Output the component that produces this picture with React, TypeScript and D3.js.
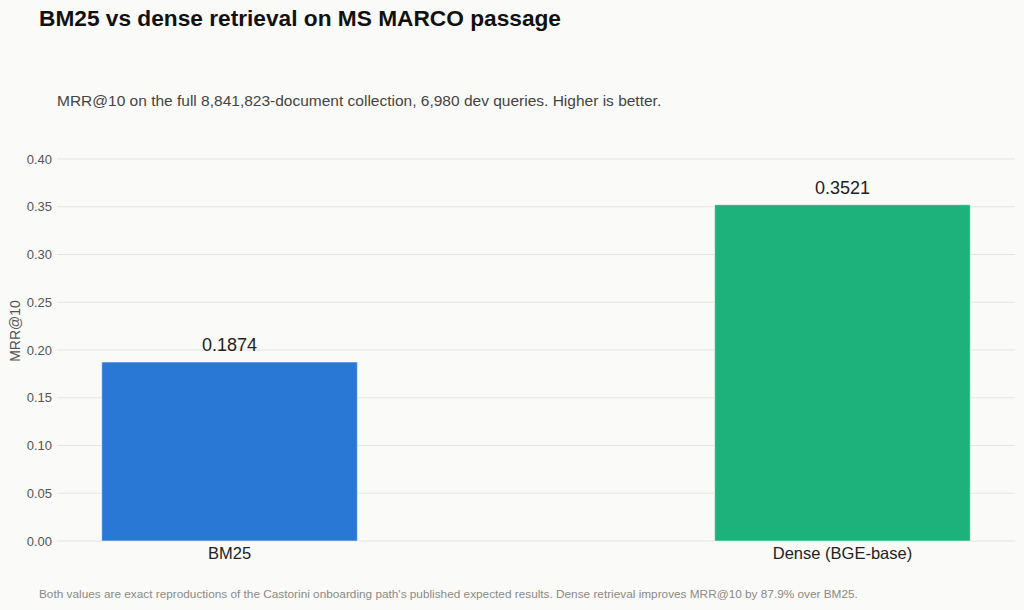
import React from "react";
import * as d3 from "d3";

const categories = ["BM25", "Dense (BGE-base)"];
const mrrValues = [0.1874, 0.3521];
const barColors = ["#2a78d6", "#1db27b"];
const yTicks = [0, 0.05, 0.1, 0.15, 0.2, 0.25, 0.3, 0.35, 0.4];

const title = "BM25 vs dense retrieval on MS MARCO passage";
const subtitle = "MRR@10 on the full 8,841,823-document collection, 6,980 dev queries. Higher is better.";
const footnote =
  "Both values are exact reproductions of the Castorini onboarding path's published expected results. Dense retrieval improves MRR@10 by 87.9% over BM25.";

const W = 1024;
const H = 610;
const margin = { top: 159, right: 9, bottom: 69, left: 57 };
const font = "'Liberation Sans', Arial, Helvetica, sans-serif";

export default function App() {
  const x = d3
    .scaleBand<string>()
    .domain(categories)
    .range([margin.left, W - margin.right])
    .paddingInner(0.583)
    .paddingOuter(0.073);
  const y = d3
    .scaleLinear()
    .domain([0, 0.4])
    .range([H - margin.bottom, margin.top]);

  return (
    <div style={{ position: "fixed", left: 0, top: 0, width: W, height: H, background: "#fafaf8" }}>
      <svg width={W} height={H} style={{ display: "block", fontFamily: font }}>
        <rect width={W} height={H} fill="#fafaf8" />
        <text x={39} y={26} fontSize={22.7} fontWeight="bold" fill="#111">
          {title}
        </text>
        <text x={57} y={106} fontSize={15.5} fill="#444">
          {subtitle}
        </text>

        {yTicks.map((t) => (
          <g key={t}>
            <line
              x1={margin.left}
              x2={W - margin.right}
              y1={y(t)}
              y2={y(t)}
              stroke="#e4e4e2"
              strokeWidth={1.2}
            />
            <text x={52} y={y(t)} dy="0.35em" textAnchor="end" fontSize={13} fill="#555">
              {t.toFixed(2)}
            </text>
          </g>
        ))}

        <text
          transform="translate(20,331) rotate(-90)"
          textAnchor="middle"
          fontSize={14}
          fill="#555"
        >
          MRR@10
        </text>

        {categories.map((c, i) => (
          <g key={c}>
            <rect
              x={x(c)}
              y={y(mrrValues[i])}
              width={x.bandwidth()}
              height={y(0) - y(mrrValues[i])}
              fill={barColors[i]}
              stroke="#ffffff"
              strokeOpacity={0.5}
              strokeWidth={1}
            />
            <text
              x={(x(c) ?? 0) + x.bandwidth() / 2}
              y={y(mrrValues[i]) - 11}
              textAnchor="middle"
              fontSize={18}
              fill="#222"
            >
              {mrrValues[i].toFixed(4)}
            </text>
            <text
              x={(x(c) ?? 0) + x.bandwidth() / 2}
              y={559}
              textAnchor="middle"
              fontSize={16.5}
              fill="#222"
            >
              {c}
            </text>
          </g>
        ))}

        <text x={39} y={598} fontSize={11.8} fill="#8a8a86">
          {footnote}
        </text>
      </svg>
    </div>
  );
}
